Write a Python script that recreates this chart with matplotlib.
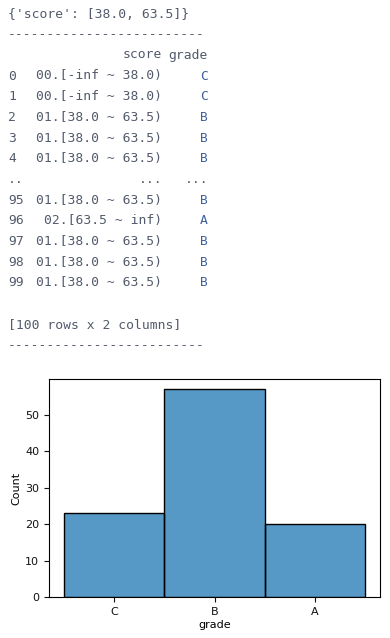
import matplotlib
matplotlib.use("Agg")
import matplotlib.pyplot as plt

# ---- data ----
bins_text = "{'score': [38.0, 63.5]}"
row_index = ['0', '1', '2', '3', '4', '..', '95', '96', '97', '98', '99']
score_labels = ['00.[-inf ~ 38.0)', '00.[-inf ~ 38.0)', '01.[38.0 ~ 63.5)',
                '01.[38.0 ~ 63.5)', '01.[38.0 ~ 63.5)', '...',
                '01.[38.0 ~ 63.5)', '02.[63.5 ~ inf)', '01.[38.0 ~ 63.5)',
                '01.[38.0 ~ 63.5)', '01.[38.0 ~ 63.5)']
grade_labels = ['C', 'C', 'B', 'B', 'B', '...', 'B', 'A', 'B', 'B', 'B']
shape_text = '[100 rows x 2 columns]'
grades = ['C', 'B', 'A']
counts = [23, 57, 20]

W, H = 390, 638
fig = plt.figure(figsize=(W / 100, H / 100), dpi=100)
fig.patch.set_facecolor('white')

mono = 'DejaVu Sans Mono'
fs = 9.4
txt_color = '#525a6b'
grade_color = '#3e5f9c'


def fx(px):
    return px / W


def fy(py):
    return 1 - py / H


def put(x, y, s, ha='left', color=txt_color):
    fig.text(fx(x), fy(y), s, ha=ha, va='center', family=mono,
             fontsize=fs, color=color)


put(8, 14, bins_text)
put(8, 35, '-' * 25)
put(162, 55, 'score', ha='right')
put(208, 55, 'grade', ha='right')
y0 = 76
step = 20.7
for i, (ix, sc, gr) in enumerate(zip(row_index, score_labels, grade_labels)):
    y = y0 + i * step
    put(8, y, ix)
    put(162, y, sc, ha='right')
    put(208, y, gr, ha='right', color=grade_color if gr != '...' else txt_color)
put(8, 325, shape_text)
put(8, 346, '-' * 25)

# ---- histogram ----
ax = fig.add_axes([fx(49), fy(597), fx(380) - fx(49), (597 - 379) / H])
xpos = list(range(len(grades)))
ax.bar(xpos, counts, width=1.0, color='#1f77b4', alpha=0.75,
       edgecolor='none')
ax.bar(xpos, counts, width=1.0, fill=False, edgecolor='black', linewidth=1.0)
ax.set_xticks(xpos)
ax.set_xticklabels(grades)
ax.set_xlim(-0.65, len(grades) - 0.35)
ax.set_ylim(0, max(counts) * 1.05)
ax.set_yticks([0, 10, 20, 30, 40, 50])
ax.tick_params(labelsize=8, length=3.5, width=0.8, colors='#111111')
ax.set_xlabel('grade', fontsize=8, labelpad=2)
ax.set_ylabel('Count', fontsize=8, labelpad=3)
for sp in ax.spines.values():
    sp.set_linewidth(0.8)

fig.savefig('out.png', dpi=100)
